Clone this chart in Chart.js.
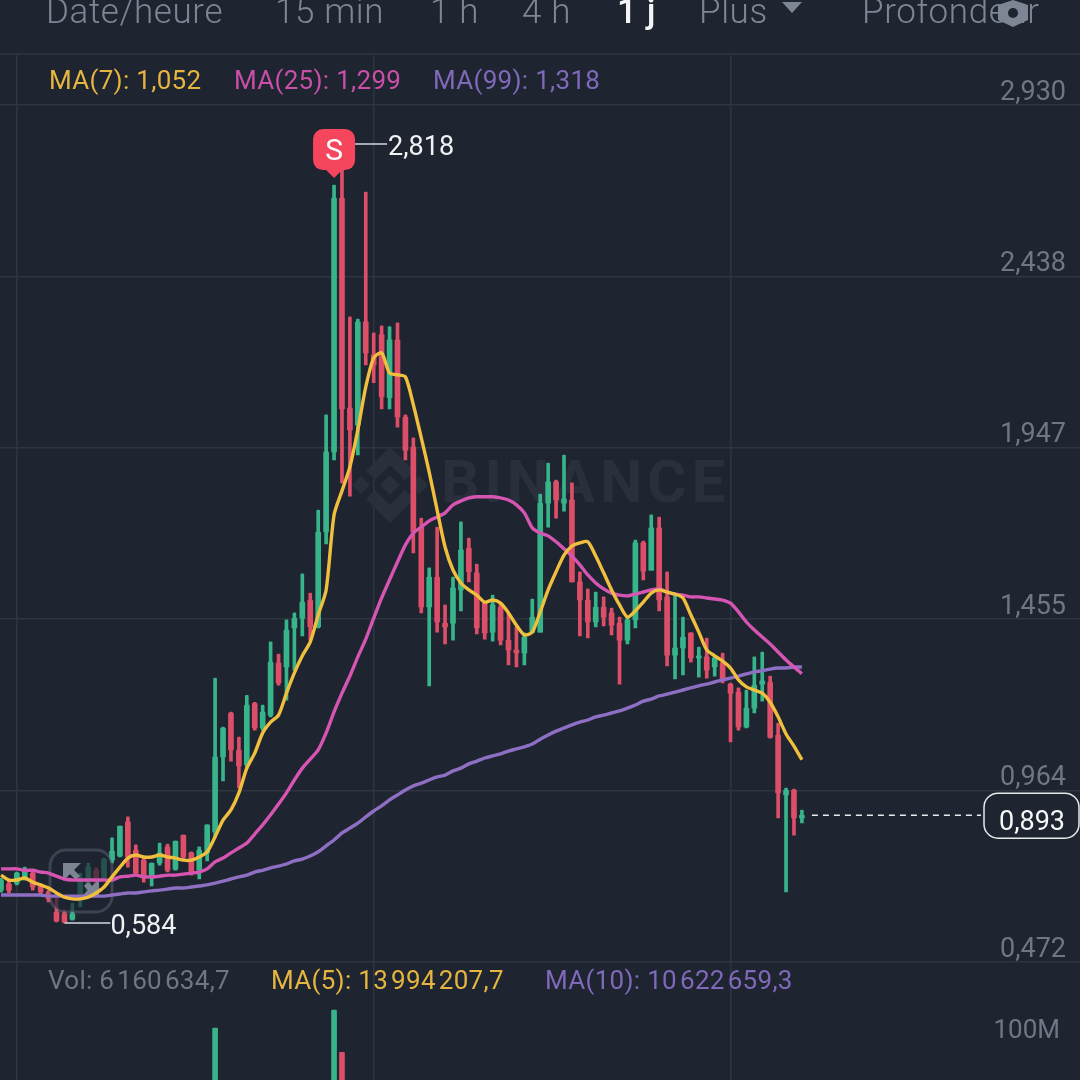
<!DOCTYPE html>
<html>
<head>
<meta charset="utf-8">
<title>Binance 1j</title>
<script src="https://cdn.jsdelivr.net/npm/chart.js@4/dist/chart.umd.min.js"></script>
<style>
html, body { margin: 0; padding: 0; width: 1080px; height: 1080px; overflow: hidden; background: #1e2430; }
canvas { position: absolute; left: 0; top: 0; }
.t { position: absolute; white-space: nowrap; font-family: Roboto, sans-serif; line-height: 1; z-index: 2; }
.tab { font-size: 35px; color: #7d8694; top: -6px; font-weight: 300; letter-spacing: 0.6px; }
.leg { font-size: 26px; letter-spacing: 0.3px; }
#sep { position: absolute; left: 0; top: 53px; width: 1080px; height: 2px; background: #2b313c; }
</style>
</head>
<body>
<div id="sep"></div>
<span class="t tab" style="left:46px">Date/heure</span>
<span class="t tab" style="left:275px">15 min</span>
<span class="t tab" style="left:430px">1 h</span>
<span class="t tab" style="left:522px">4 h</span>
<span class="t tab" style="left:617px;color:#f2f4f6;font-weight:500">1 j</span>
<span class="t tab" style="left:699px">Plus</span>
<span class="t tab" style="left:862px">Profondeur</span>
<svg style="position:absolute;left:0;top:0;z-index:3" width="1080" height="40">
  <polygon points="782,2 802,2 792,13" fill="#7d8694"/>
  <polygon points="1013,0 1028,5 1028,20 1013,27 998,20 998,5" fill="#7d8694"/>
  <circle cx="1013" cy="13" r="5" fill="#1e2430"/>
</svg>
<span class="t leg" style="left:49px;top:67px;color:#e6b53f">MA(7): 1,052</span>
<span class="t leg" style="left:234px;top:67px;color:#c94fa9">MA(25): 1,299</span>
<span class="t leg" style="left:433px;top:67px;color:#7f69b8">MA(99): 1,318</span>
<span class="t leg" style="left:48px;top:967px;color:#6f7785">Vol: 6&#8202;160&#8202;634,7</span>
<span class="t leg" style="left:271px;top:967px;color:#e6b53f">MA(5): 13&#8202;994&#8202;207,7</span>
<span class="t leg" style="left:545px;top:967px;color:#7f69b8">MA(10): 10&#8202;622&#8202;659,3</span>
<canvas id="chart" width="1080" height="1080"></canvas>
<script>
// daily candles
const opens = [
  .678,.696,.698,.712,.727,.690,.673,.615,.610,.595,
  .650,.678,.735,.713,.764,.776,.874,.793,.764,.713,
  .756,.802,.738,.836,.785,.735,.785,.845,1.060,1.186,
  1.080,1.037,1.214,1.143,1.180,1.330,1.318,1.430,1.458,1.510,
  1.433,1.705,1.935,2.663,2.061,2.012,2.308,2.213,2.271,2.090,
  2.256,2.035,1.949,1.719,1.490,1.576,1.444,1.444,1.539,1.659,
  1.588,1.501,1.418,1.490,1.395,1.367,1.358,1.418,1.418,1.788,
  1.849,1.788,1.797,1.562,1.510,1.447,1.490,1.473,1.444,1.395,
  1.453,1.674,1.596,1.717,1.519,1.352,1.373,1.416,1.344,1.347,
  1.318,1.330,1.269,1.246,1.146,1.200,1.269,1.275,1.123,.951,
  .965,.885
];
const closes = [
  .707,.678,.727,.738,.687,.673,.653,.590,.587,.610,
  .707,.744,.687,.767,.790,.862,.773,.727,.713,.756,
  .785,.735,.819,.773,.730,.793,.865,1.060,1.143,1.080,
  1.034,1.209,1.143,1.189,1.332,1.272,1.424,1.458,1.504,1.433,
  1.705,1.935,2.663,2.058,1.998,2.308,2.219,2.184,2.093,2.256,
  2.035,1.940,1.705,1.490,1.576,1.447,1.433,1.545,1.654,1.591,
  1.430,1.416,1.496,1.395,1.367,1.358,1.404,1.461,1.788,1.849,
  1.797,1.800,1.562,1.510,1.447,1.490,1.461,1.438,1.395,1.453,
  1.674,1.593,1.717,1.510,1.352,1.373,1.404,1.344,1.350,1.309,
  1.344,1.281,1.243,1.146,1.200,1.266,1.278,1.117,.957,.965,
  .885,.893
];
const highs = [
  .712,.704,.730,.744,.730,.696,.678,.655,.621,.641,
  .727,.756,.742,.770,.828,.862,.888,.808,.770,.756,
  .813,.810,.819,.836,.788,.802,.865,1.286,1.146,1.189,
  1.117,1.237,1.217,1.209,1.390,1.355,1.453,1.473,1.585,1.530,
  1.768,2.041,2.700,2.818,2.322,2.316,2.680,2.276,2.296,2.294,
  2.305,2.041,1.975,1.745,1.602,1.719,1.496,1.576,1.734,1.688,
  1.613,1.504,1.524,1.501,1.473,1.433,1.416,1.513,1.814,1.903,
  1.854,1.926,1.846,1.591,1.542,1.533,1.519,1.487,1.461,1.461,
  1.682,1.679,1.754,1.748,1.591,1.530,1.461,1.416,1.375,1.401,
  1.347,1.358,1.272,1.258,1.252,1.347,1.361,1.292,1.157,.971,
  .968,.908
];
const lows = [
  .672,.670,.693,.707,.678,.667,.644,.587,.584,.592,
  .630,.658,.670,.707,.756,.773,.744,.721,.701,.690,
  .750,.730,.735,.764,.721,.710,.762,.831,.991,1.048,
  .971,1.028,1.137,1.137,1.175,1.266,1.223,1.309,1.407,1.395,
  1.430,1.671,1.912,1.846,1.808,1.926,2.184,2.133,2.058,2.058,
  2.006,1.912,1.645,1.473,1.264,1.418,1.384,1.395,1.479,1.562,
  1.413,1.398,1.392,1.381,1.324,1.318,1.324,1.416,1.418,1.719,
  1.745,1.765,1.562,1.407,1.401,1.433,1.436,1.410,1.269,1.384,
  1.430,1.568,1.596,1.479,1.321,1.284,1.295,1.332,1.289,1.286,
  1.292,1.272,1.103,1.137,1.143,1.186,1.220,1.114,.885,.673,
  .836,.871
];
const ma7 = [
  .721,.707,.707,.713,.701,.693,.684,.670,.658,.653,
  .653,.658,.670,.687,.716,.744,.770,.779,.773,.773,
  .779,.773,.770,.764,.764,.773,.788,.831,.879,.908,
  .957,1.028,1.071,1.129,1.160,1.180,1.243,1.301,1.350,1.390,
  1.467,1.539,1.754,1.823,1.892,1.998,2.121,2.204,2.219,2.161,
  2.156,2.150,2.070,1.975,1.877,1.768,1.662,1.596,1.559,1.539,
  1.524,1.504,1.510,1.501,1.473,1.438,1.410,1.418,1.476,1.539,
  1.591,1.639,1.665,1.674,1.677,1.636,1.588,1.539,1.496,1.461,
  1.479,1.504,1.530,1.539,1.533,1.527,1.516,1.467,1.418,1.367,
  1.350,1.335,1.315,1.281,1.261,1.252,1.243,1.217,1.175,1.126,
  1.091,1.052
];
const ma25 = [
  .739,.739,.739,.735,.735,.730,.727,.718,.710,.707,
  .707,.707,.707,.707,.707,.716,.718,.721,.716,.716,
  .718,.721,.721,.724,.727,.730,.739,.759,.770,.785,
  .799,.813,.839,.865,.894,.925,.957,.994,1.028,1.054,
  1.080,1.129,1.189,1.243,1.292,1.347,1.398,1.458,1.516,1.568,
  1.619,1.668,1.702,1.719,1.737,1.748,1.760,1.783,1.794,1.803,
  1.806,1.806,1.806,1.803,1.797,1.783,1.760,1.717,1.702,1.694,
  1.677,1.657,1.636,1.611,1.582,1.559,1.542,1.530,1.524,1.522,
  1.527,1.533,1.539,1.542,1.533,1.527,1.524,1.519,1.519,1.516,
  1.513,1.510,1.501,1.476,1.447,1.424,1.404,1.384,1.361,1.338,
  1.318,1.299
];
const ma99 = [
  .664,.664,.664,.664,.664,.664,.661,.661,.661,.661,
  .661,.661,.661,.661,.664,.667,.670,.670,.673,.676,
  .678,.681,.684,.684,.687,.690,.693,.698,.704,.710,
  .716,.721,.730,.735,.742,.747,.753,.762,.767,.776,
  .788,.805,.822,.842,.856,.870,.888,.905,.920,.937,
  .951,.965,.977,.985,.994,1.003,1.008,1.020,1.028,1.040,
  1.048,1.057,1.063,1.069,1.077,1.083,1.089,1.097,1.111,1.123,
  1.134,1.143,1.152,1.160,1.166,1.175,1.180,1.186,1.192,1.200,
  1.209,1.220,1.226,1.235,1.240,1.246,1.252,1.258,1.264,1.269,
  1.275,1.281,1.286,1.292,1.298,1.304,1.307,1.312,1.315,1.315,
  1.318,1.318
];
// only three volume bars reach into the cropped picture (millions)
const volumeCandles = [27, 42, 43];
const volumeValues = [109.5, 121, 94];

const priceTicks = [2.930, 2.438, 1.947, 1.455, 0.964, 0.472];
const volumeTicks = [100];
const timeTicks = [2, 47, 92];

const GREEN = '#38b48b', RED = '#dd4f68', GRID = '#2f3540', TICK = '#6f7785';
const frLabel = v => v.toFixed(3).replace('.', ',');
const candleColor = i => closes[i] >= opens[i] ? GREEN : RED;
const series = arr => arr.map((v, i) => ({ x: i, y: v }));
const flatAxis = s => { s.width = 0; s.paddingTop = 0; s.paddingBottom = 0; s.paddingLeft = 0; s.paddingRight = 0; };

const wicks = highs.map((h, i) => ({ x: i, y: [lows[i], h] }));
const bodies = opens.map((o, i) => ({ x: i, y: [Math.min(o, closes[i]), Math.max(o, closes[i])] }));
const volumes = volumeCandles.map((c, i) => ({ x: c, y: [0, volumeValues[i]] }));

function maLine(label, data, color, order) {
    return { type: 'line', label, data: series(data), borderColor: color, borderWidth: 3.4,
        pointRadius: 0, tension: 0.25, yAxisID: 'y', order };
}

function polygon(c, pts) {
    c.beginPath();
    pts.forEach((p, i) => i ? c.lineTo(p[0], p[1]) : c.moveTo(p[0], p[1]));
    c.closePath();
    c.fill();
}

// watermark, under the candles
const watermark = {
    id: 'watermark',
    beforeDatasetsDraw(chart) {
        const c = chart.ctx;
        c.save();
        c.fillStyle = '#2a303b';
        c.font = '700 60px Roboto, sans-serif';
        c.letterSpacing = '5px';
        c.textBaseline = 'middle';
        c.fillText('BINANCE', 441, 487);
        c.translate(390, 485);
        polygon(c, [[0, -38], [24, -14], [15, -5], [0, -20], [-15, -5], [-24, -14]]);
        polygon(c, [[0, 38], [24, 14], [15, 5], [0, 20], [-15, 5], [-24, 14]]);
        polygon(c, [[0, -10], [10, 0], [0, 10], [-10, 0]]);
        polygon(c, [[-29, -9], [-20, 0], [-29, 9], [-38, 0]]);
        polygon(c, [[29, -9], [38, 0], [29, 9], [20, 0]]);
        c.restore();
    }
};

// the resize button sits between the candles and the MA lines
const resizeIcon = {
    id: 'resizeIcon',
    afterDatasetDraw(chart, args) {
        if (chart.data.datasets[args.index].label !== 'bodies') return;
        const c = chart.ctx;
        c.save();
        c.beginPath();
        c.roundRect(50, 850, 62, 62, 16);
        c.fillStyle = 'rgba(30,36,48,0.68)';
        c.fill();
        c.strokeStyle = 'rgba(120,128,142,0.35)';
        c.lineWidth = 3;
        c.stroke();
        c.fillStyle = '#7c8593';
        c.strokeStyle = '#7c8593';
        polygon(c, [[63, 863], [81, 863], [63, 881]]);
        polygon(c, [[99, 897], [81, 897], [99, 879]]);
        c.lineWidth = 6;
        c.beginPath(); c.moveTo(68, 868); c.lineTo(78, 878); c.stroke();
        c.beginPath(); c.moveTo(94, 892); c.lineTo(86, 884); c.stroke();
        c.restore();
    }
};

// high / low labels, S marker and the last price tag
const annotations = {
    id: 'annotations',
    afterDraw(chart) {
        const c = chart.ctx, x = chart.scales.x, y = chart.scales.y;
        const hiY = y.getPixelForValue(Math.max(...highs));
        const loY = y.getPixelForValue(Math.min(...lows));
        const sX = x.getPixelForValue(42), sTip = y.getPixelForValue(highs[42]) - 7;
        const lastX = x.getPixelForValue(closes.length - 1), lastY = y.getPixelForValue(closes[closes.length - 1]);
        c.save();
        c.font = '27px Roboto, sans-serif';
        c.textBaseline = 'middle';
        c.strokeStyle = '#d5d8dc';
        c.fillStyle = '#f0f2f4';
        c.lineWidth = 1.5;

        c.beginPath(); c.moveTo(sX + 21, hiY); c.lineTo(sX + 53, hiY); c.stroke();
        c.fillText(frLabel(Math.max(...highs)), sX + 54, hiY + 4);

        const loX = x.getPixelForValue(8);
        c.beginPath(); c.moveTo(loX, loY); c.lineTo(loX + 46, loY); c.stroke();
        c.fillText(frLabel(Math.min(...lows)), loX + 46, loY + 4);

        c.fillStyle = '#f6465d';
        c.beginPath();
        c.roundRect(sX - 21, sTip - 49, 42, 41, 10);
        c.fill();
        polygon(c, [[sX - 9, sTip - 9], [sX, sTip], [sX + 9, sTip - 9]]);
        c.fillStyle = '#fff';
        c.textAlign = 'center';
        c.font = '30px Roboto, sans-serif';
        c.fillText('S', sX, sTip - 26);
        c.font = '27px Roboto, sans-serif';

        c.setLineDash([6, 5]);
        c.strokeStyle = '#e8eaec';
        c.beginPath(); c.moveTo(lastX + 10, lastY); c.lineTo(981, lastY); c.stroke();
        c.setLineDash([]);
        c.fillStyle = '#1e2430';
        c.lineWidth = 1.5;
        c.beginPath();
        c.roundRect(984, lastY - 22, 95, 45, 14);
        c.fill(); c.stroke();
        c.fillStyle = '#f6f7f8';
        c.fillText(frLabel(closes[closes.length - 1]), 1032, lastY + 8);
        c.restore();
    }
};

new Chart(document.getElementById('chart').getContext('2d'), {
    type: 'bar',
    data: {
        datasets: [
            maLine('MA(7)', ma7, '#f0bf3d', 0),
            maLine('MA(25)', ma25, '#d655b2', 1),
            maLine('MA(99)', ma99, '#8e6fc4', 2),
            { label: 'bodies', data: bodies, backgroundColor: bodies.map((d, i) => candleColor(i)),
              barThickness: 5, borderRadius: 1, stack: 'k', yAxisID: 'y', order: 3 },
            { label: 'wicks', data: wicks, backgroundColor: wicks.map((d, i) => candleColor(i)),
              barThickness: 3, borderRadius: 1, stack: 'k', yAxisID: 'y', order: 4 },
            { label: 'volume', data: volumes, backgroundColor: volumeCandles.map(candleColor),
              barThickness: 5, borderRadius: 1, stack: 'k', yAxisID: 'yVol', order: 5 }
        ]
    },
    options: {
        responsive: false,
        animation: false,
        devicePixelRatio: 1,
        layout: { padding: { top: 55, left: 0, right: 0, bottom: 0 } },
        plugins: { legend: { display: false }, tooltip: { enabled: false } },
        scales: {
            x: {
                type: 'linear', min: -0.126, max: 136.07, offset: false,
                grid: { offset: false, color: GRID, lineWidth: 1.5, drawTicks: false },
                border: { display: false },
                ticks: { display: false },
                afterBuildTicks: s => { s.ticks = timeTicks.map(v => ({ value: v })); }
            },
            y: {
                position: 'right', min: 0.1336, max: 3.073, stacked: false, beginAtZero: false,
                grid: { color: GRID, lineWidth: 1.5, drawTicks: false },
                border: { display: false },
                ticks: { mirror: true, padding: -14, labelOffset: -12, color: TICK, autoSkip: false,
                    font: { family: 'Roboto', size: 27 }, callback: frLabel },
                afterBuildTicks: s => { s.ticks = priceTicks.map(v => ({ value: v })); },
                afterFit: flatAxis
            },
            yVol: {
                position: 'right', min: 76.4, max: 729.3, stacked: false, beginAtZero: false,
                grid: { display: false, drawTicks: false },
                border: { display: false },
                ticks: { mirror: true, padding: -20, labelOffset: -11, color: TICK, autoSkip: false,
                    font: { family: 'Roboto', size: 26 }, callback: v => v + 'M' },
                afterBuildTicks: s => { s.ticks = volumeTicks.map(v => ({ value: v })); },
                afterFit: flatAxis
            }
        }
    },
    plugins: [watermark, resizeIcon, annotations]
});
</script>
</body>
</html>
